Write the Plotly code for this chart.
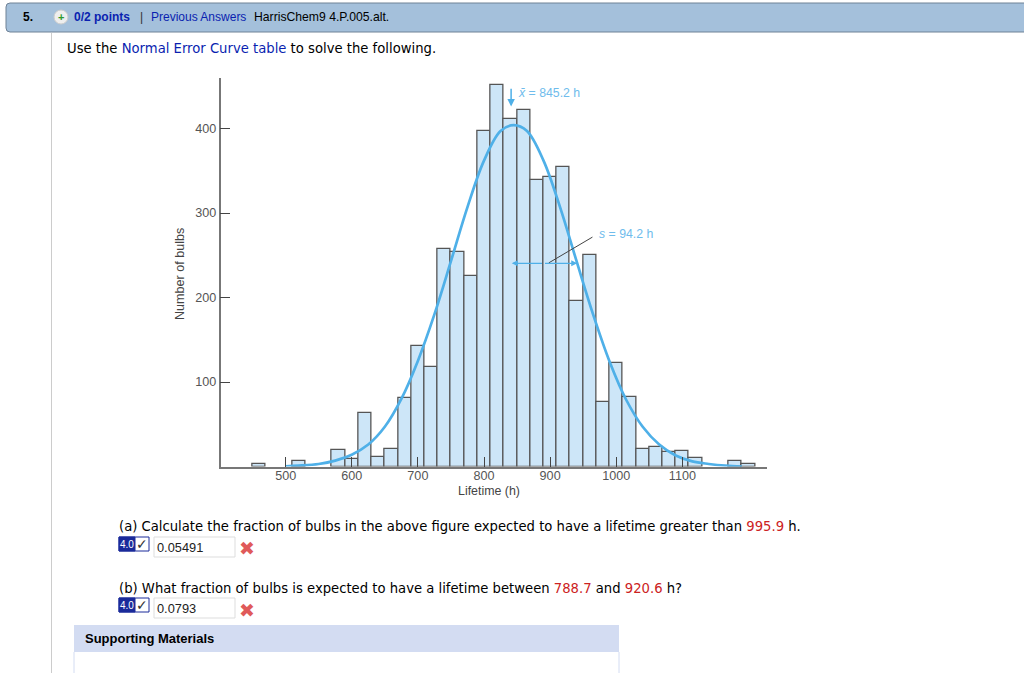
import plotly.graph_objects as go

W, H = 1024, 673

# histogram, 20 h wide bins
bin_centers = [460, 520, 580, 600, 620, 640, 660, 680, 700, 720, 740, 760, 780, 800, 820, 840, 860,
               880, 900, 920, 940, 960, 980, 1000, 1020, 1040, 1060, 1080, 1100, 1120, 1180, 1200]
bin_counts = [3, 6, 20, 8.5, 63, 11.5, 21, 81, 143, 118, 258, 254, 226, 397, 451, 411, 422,
              339, 343, 355, 196, 250, 76, 122, 82, 21, 23.5, 17, 18.5, 10.5, 7, 2.5]

curve_x = [500, 520, 550, 575, 600, 625, 650, 675, 700, 725, 750, 775, 800, 825, 845, 865, 890,
           915, 940, 965, 990, 1015, 1040, 1065, 1090, 1115, 1140, 1165, 1190]
curve_y = [0.2, 1, 3, 7, 14, 26, 47, 80, 125, 180, 243, 307, 362, 397, 404, 397, 362,
           307, 243, 180, 124, 79, 47, 26, 13, 6, 3, 1, 0]

x_ticks = [500, 600, 700, 800, 900, 1000, 1100]
y_ticks = [100, 200, 300, 400]

BLUE = "#4fb0e8"
LINK = "#0a1fb0"
RED = "#cc2222"
VERDANA = "DejaVu Sans"
ARIAL = "Liberation Sans"


def px(x):
    return x / W


def py(y):
    return 1 - y / H


def label(x, y, text, size=12, color="#000000", family=ARIAL, anchor="left", angle=0):
    # annotations carry about 2px of padding on the left
    if anchor == "left":
        x -= 2
    return dict(xref="paper", yref="paper", x=px(x), y=py(y), text=text, showarrow=False,
                xanchor=anchor, yanchor="middle", textangle=angle, align="left",
                font=dict(size=size, color=color, family=family))


def box(x0, y0, x1, y1, fill="rgba(0,0,0,0)", line="rgba(0,0,0,0)", width=1):
    return dict(type="rect", xref="paper", yref="paper", x0=px(x0), x1=px(x1), y0=py(y0), y1=py(y1),
                fillcolor=fill, line=dict(color=line, width=width), layer="below")


def vline(x, y0, y1, color):
    return dict(type="line", xref="paper", yref="paper", x0=px(x), x1=px(x), y0=py(y0), y1=py(y1),
                line=dict(color=color, width=1), layer="below")


def arrow(x, y, ax, ay, width):
    return dict(xref="x", yref="y", axref="x", ayref="y", x=x, y=y, ax=ax, ay=ay, text="", showarrow=True,
                arrowhead=2, arrowsize=1, arrowwidth=width, arrowcolor=BLUE)


fig = go.Figure()
fig.add_trace(go.Bar(x=bin_centers, y=bin_counts, width=20,
                     marker=dict(color="#cde6f8", line=dict(color="#555555", width=1.3))))
fig.add_trace(go.Scatter(x=curve_x, y=curve_y, mode="lines",
                         line=dict(color=BLUE, width=2.7, shape="spline")))

shapes = [
    dict(type="path", xref="paper", yref="paper",
         path=f"M {px(1030)} {py(3)} L {px(10)} {py(3)} Q {px(6)} {py(3)} {px(6)} {py(7)} "
              f"L {px(6)} {py(28)} Q {px(6)} {py(32)} {px(10)} {py(32)} L {px(1030)} {py(32)} Z",
         fillcolor="#a4c0db", line=dict(color="#6f8296", width=1), layer="below"),
    vline(51.5, 33, 673, "#cccccc"),
    box(154, 537, 235, 557, "#ffffff", "#dddddd"),
    box(154, 598, 235, 618, "#ffffff", "#dddddd"),
    box(119, 537, 149, 551, "#ffffff", "#1a2a9a"),
    box(119, 537, 135, 551, "#1a2a9a", "#1a2a9a"),
    box(119, 598, 149, 612, "#ffffff", "#1a2a9a"),
    box(119, 598, 135, 612, "#1a2a9a", "#1a2a9a"),
    box(74, 625, 619, 652, "#d3dcf2"),
    vline(74, 652, 673, "#d3dcf2"),
    vline(619, 652, 673, "#d3dcf2"),
    dict(type="circle", xref="paper", yref="paper", x0=px(54), x1=px(68), y0=py(10), y1=py(24),
         fillcolor="#eeeeee", line=dict(color="#cccccc", width=1), layer="below"),
    # leader line to the s arrow
    dict(type="line", xref="x", yref="y", x0=898, y0=241, x1=964, y1=271.5,
         line=dict(color="#444444", width=1)),
]

annotations = [
    label(23, 17, "<b>5.</b>", 12),
    label(61, 17, "<b>+</b>", 11, "#2e9a2e", anchor="center"),
    label(74, 17, "<b>0/2 points</b>", 12, LINK),
    label(141, 17, "|", 12, "#333333", anchor="center"),
    label(151, 17, "Previous Answers", 12, LINK),
    label(254, 17, "HarrisChem9 4.P.005.alt.", 12.2),
    label(67, 49, f'Use the <span style="color:{LINK}">Normal Error Curve table</span> to solve the following.',
          13.2, family=VERDANA),
    label(119, 526, "(a) Calculate the fraction of bulbs in the above figure expected to have a lifetime greater than "
          f'<span style="color:{RED}">995.9</span> h.', 13.2, family=VERDANA),
    label(119, 588, f'(b) What fraction of bulbs is expected to have a lifetime between <span style="color:{RED}">788.7</span>'
          f' and <span style="color:{RED}">920.6</span> h?', 13.2, family=VERDANA),
    label(157, 547, "0.05491", 12.8, "#222222"),
    label(157, 608, "0.0793", 12.8, "#222222"),
    label(127, 544, "4.0", 10, "#ffffff", anchor="center"),
    label(127, 605, "4.0", 10, "#ffffff", anchor="center"),
    label(142, 544, "✓", 14, "#333333", VERDANA, "center"),
    label(142, 605, "✓", 14, "#333333", VERDANA, "center"),
    label(247, 548, "✖", 19, "#e05a5a", VERDANA, "center"),
    label(247, 610, "✖", 19, "#e05a5a", VERDANA, "center"),
    label(85, 638, "<b>Supporting Materials</b>", 13),
    label(180, 274, "Number of bulbs", 12.6, "#444444", anchor="center", angle=-90),
    label(489, 491, "Lifetime (h)", 12.4, "#444444", anchor="center"),
    label(518, 93, "<i>x̄</i> = 845.2 h", 12.3, "#6fbcec"),
    label(599, 234, "<i>s</i> = 94.2 h", 12.3, "#6fbcec"),
    # mean arrow
    arrow(841, 426, 841, 449, 1.5),
    # s arrow, one half each way so both heads come out the same
    arrow(941, 240.5, 890, 240.5, 1.2),
    arrow(842, 240.5, 890, 240.5, 1.2),
]

axis_line = dict(showline=True, linecolor="#777777", linewidth=1.5, showgrid=False, zeroline=False,
                 ticks="inside", ticklen=10, tickcolor="#444444", tickwidth=1,
                 tickfont=dict(family=ARIAL, size=12.6, color="#555555"))

fig.update_layout(
    width=W, height=H, margin=dict(l=0, r=0, t=0, b=0),
    paper_bgcolor="#ffffff", plot_bgcolor="#ffffff",
    showlegend=False, bargap=0,
    shapes=shapes, annotations=annotations,
    xaxis=dict(domain=[px(220.5), px(767)], range=[401.5, 1228], tickvals=x_ticks,
               ticklabelstandoff=-3, **axis_line),
    yaxis=dict(domain=[py(466.5), py(78)], range=[0, 459.8], tickvals=y_ticks, **axis_line),
)

fig.write_html("out.html", config={"displayModeBar": False},
               post_script="document.body.style.margin='0';")
